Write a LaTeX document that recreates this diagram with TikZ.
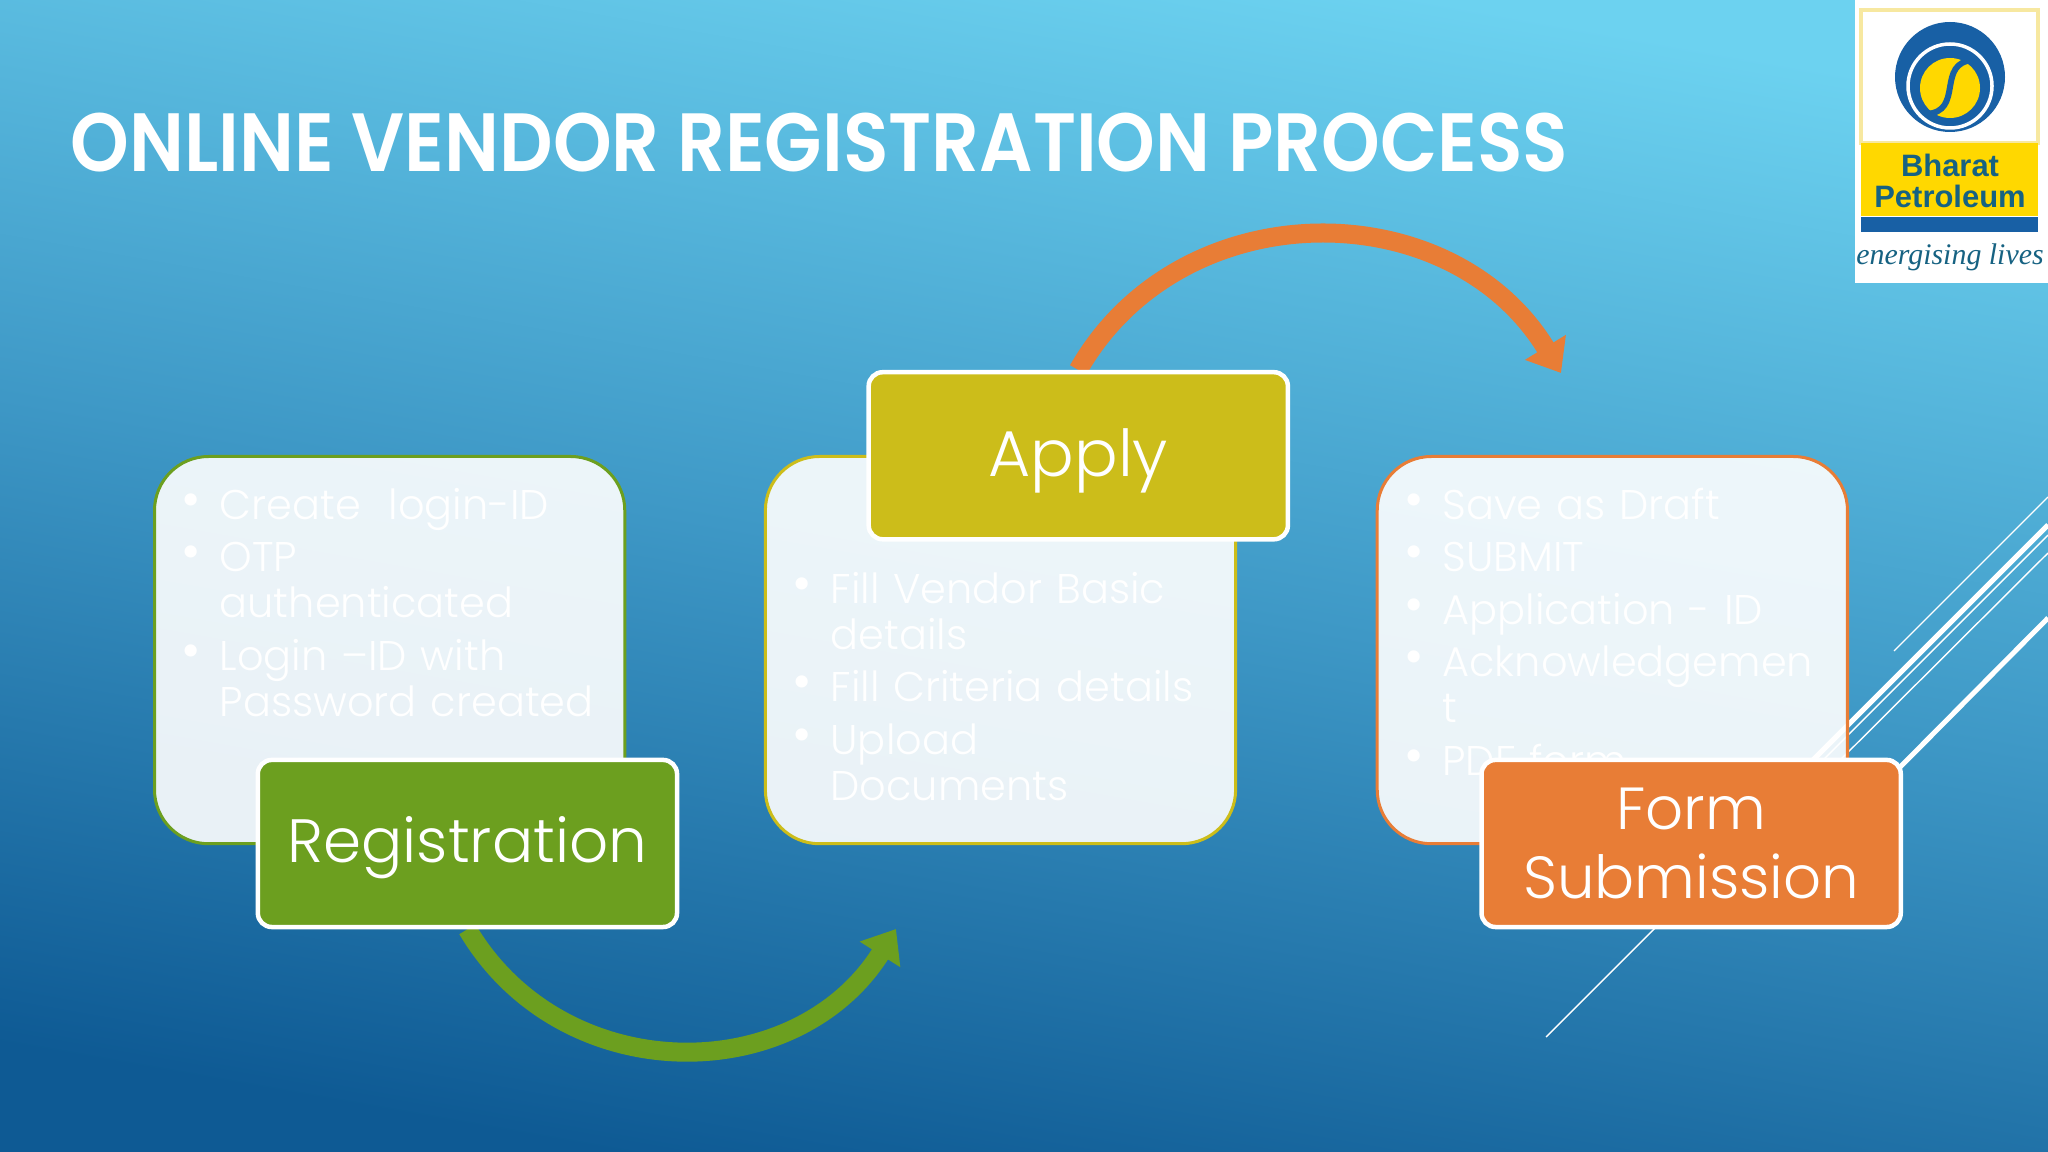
\documentclass[tikz,border=0pt]{standalone}
\usepackage{fontspec}
\setmainfont{Poppins}
\newfontfamily\thinfont{Poppins Light}
\newfontfamily\titlefont[FakeStretch=0.904]{Poppins SemiBold}
\newfontfamily\logofont{Liberation Sans}
\newfontfamily\sloganfont{Liberation Serif}
\usetikzlibrary{positioning,calc,arrows.meta}
\definecolor{bgtop}{RGB}{108,210,240}
\definecolor{bgmid}{RGB}{62,152,198}
\definecolor{bgbottom}{RGB}{14,90,148}
\definecolor{reggreen}{RGB}{108,159,31}
\definecolor{applyyellow}{RGB}{204,189,26}
\definecolor{formorange}{RGB}{232,125,54}
\definecolor{logoblue}{RGB}{24,96,165}
\definecolor{logoyellow}{RGB}{255,216,0}
\definecolor{logoframe}{RGB}{247,232,160}
\definecolor{logotext}{RGB}{22,98,130}
\pgfdeclareverticalshading{slidebg}{100bp}{color(0bp)=(bgbottom); color(25bp)=(bgbottom); color(50bp)=(bgmid); color(75bp)=(bgtop); color(100bp)=(bgtop)}
\pgfdeclarelayer{back}
\pgfsetlayers{back,main}

\newcommand{\carditem}[1]{\par\hangindent=10.8pt\hangafter=1\noindent\makebox[10.8pt][l]{\smash{\raisebox{0.6pt}{\fontsize{15pt}{15pt}\selectfont\textbullet}}}#1\par}

\begin{document}
\begin{tikzpicture}[x=0.01cm, y=-0.01cm,
card/.style={rectangle, rounded corners=0.54cm, draw=#1, line width=0.03cm, fill=white, fill opacity=0.9, draw opacity=1, minimum width=4.70cm, minimum height=3.87cm, inner sep=0pt},
cardtext/.style={anchor=north west, inner sep=0pt, text=white, text width=4.6cm, align=left, font=\thinfont\fontsize{11.8pt}{13.09pt}\selectfont, execute at begin node={\parskip=1.85pt\parindent=0pt}},
tagbox/.style={rectangle, rounded corners=0.14cm, draw=white, line width=0.045cm, fill=#1, minimum width=4.19cm, minimum height=1.67cm, inner sep=0pt, text=white, align=center, font=\thinfont\fontsize{17.4pt}{19.6pt}\selectfont},
flow/.style={draw=#1, line width=0.19cm, -{Triangle[length=0.3cm,width=0.46cm]}},
slash/.style={draw=white, line width=#1}]

\useasboundingbox (0,0) rectangle (2048,1152);

\begin{pgfonlayer}{back}
% BACKGROUND

\shade[shading=slidebg, shading angle=-10] (0,0) rectangle (2048,1152);

\foreach \xa/\ya/\xb/\yb/\wd in {1894/651/2048/497/0.012cm, 1750/823/2048/525/0.05cm, 1758/815/2048/525/0.012cm, 1546/1037/2048/535/0.014cm, 1800/800/2048/553/0.014cm, 1800/868/2048/618/0.05cm}
  \draw[slash=\wd] (\xa,\ya) -- (\xb,\yb);

% CARDS

\node [card=reggreen, anchor=north west] (regcard) at (153,455) {};
\node [card=applyyellow, right=1.375cm of regcard] (applycard) {};
\node [card=formorange, right=1.385cm of applycard] (formcard) {};

\node [cardtext, xshift=0.28cm, yshift=-0.11cm] (regtext) at (regcard.north west)
{\carditem{Create\ \ login-ID}\carditem{OTP\newline authenticated}\carditem{Login –ID with\newline Password created}};

\node [cardtext, xshift=0.28cm, yshift=-0.95cm] (applytext) at (applycard.north west)
{\carditem{Fill Vendor Basic\newline details}\carditem{Fill Criteria details}\carditem{Upload\newline Documents}};

\node [cardtext, xshift=0.28cm, yshift=-0.11cm] (formtext) at (formcard.north west)
{\carditem{Save as Draft}\carditem{SUBMIT}\carditem{Application - ID}\carditem{Acknowledgemen\newline t}\carditem{PDF form}};
\end{pgfonlayer}

% TITLE

\node [anchor=west, inner sep=0pt, text=white, font=\titlefont\fontsize{23.5pt}{28pt}\selectfont] (title) at (70,143) {ONLINE VENDOR REGISTRATION PROCESS};

% TAGS

\node [tagbox=reggreen, anchor=south east, xshift=0.53cm, yshift=-0.84cm, text height=15.5pt] (registration) at (regcard.south east) {Registration};
\node [tagbox=applyyellow, anchor=north east, xshift=0.53cm, yshift=0.85cm, text height=16.5pt, font=\thinfont\fontsize{18.4pt}{20pt}\selectfont] (apply) at (applycard.north east) {Apply};
\node [tagbox=formorange, anchor=south east, xshift=0.54cm, yshift=-0.84cm, font=\thinfont\fontsize{16.9pt}{19.6pt}\selectfont] (form) at (formcard.south east) {Form\\Submission};

% ARROWS

\coordinate (applytip) at (896,929);
\coordinate (formtip) at (1561,373);

\begin{pgfonlayer}{back}
\draw[flow=reggreen] (registration.south) .. controls (562,1089) and (795,1089) .. (applytip);
\draw[flow=formorange] (apply.north) .. controls (1180,191) and (1450,191) .. (formtip);
\end{pgfonlayer}

% LOGO

\fill[white] (1855,0) rectangle (2048,283);
\draw[logoframe, line width=0.04cm] (1861,10) rectangle (2038,143);
\fill[logoyellow] (1861,143) rectangle (2038,216);
\fill[logoblue] (1861,217) rectangle (2038,232);
\fill[logoblue] (1950,77) circle (55);
\draw[white, line width=0.035cm] (1950,86) circle (42);
\fill[logoyellow] (1950,88) circle (30);
\draw[logoblue, line width=0.06cm] (1974,60) .. controls (1935,62) and (1965,112) .. (1926,114);
\node [inner sep=0pt, text=logotext, align=center, font=\logofont\bfseries\fontsize{8.8pt}{8.8pt}\selectfont] (logoname) at (1950,181) {Bharat\\Petroleum};
\node [inner sep=0pt, text=logotext, font=\sloganfont\itshape\fontsize{8.5pt}{9pt}\selectfont] (logoslogan) at (1950,257) {energising lives};

\end{tikzpicture}
\end{document}
